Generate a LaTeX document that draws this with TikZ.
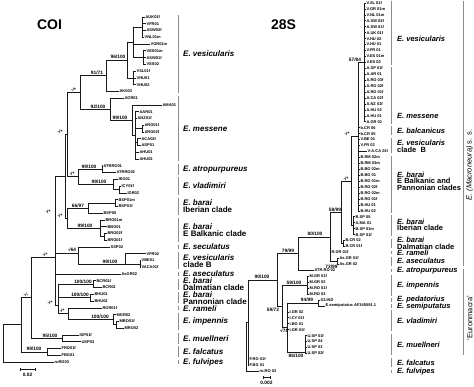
\documentclass[tikz,border=0pt]{standalone}
\usepackage{fontspec}
\setmainfont{Liberation Sans}
\newcommand\tipfnt{\fontsize{4}{4.5}\selectfont\bfseries}
\newcommand\supfnt{\fontsize{4.8}{5}\selectfont\bfseries}
\newcommand\cladefnt{\fontsize{8}{7}\selectfont\bfseries}
\newcommand\cladefntB{\fontsize{7.5}{6.5}\selectfont\bfseries}
\newcommand\headfnt{\fontsize{14}{16}\selectfont\bfseries}
\newcommand\spname[1]{\textit{#1}}

\tikzset{
  branch/.style={line width=0.7pt, black!90},
  tip/.style={anchor=west, inner sep=0.4pt, font=\tipfnt},
  support/.style={inner sep=0pt, font=\supfnt},
  cladebar/.style={line width=0.9pt, black!45},
  clade/.style={anchor=west, inner sep=0pt, align=left, font=\cladefnt},
  cladeB/.style={clade, font=\cladefntB},
  head/.style={font=\headfnt},
  side/.style={rotate=90, inner sep=0pt, font=\fontsize{7.5}{8}\selectfont},
  declare function={yc(\i)=17+6.765*\i; ys(\i)=3+5.94*\i;}
}

\begin{document}
\begin{tikzpicture}[x=1pt, y=-1pt]
\useasboundingbox (0,0) rectangle (474,387);

% Titles
\node[head] (tCOI) at (49.5,25) {COI};
\node[head] (t28S) at (283.5,25) {28S};

%%%%%%%%%%%%%%%% COI tree %%%%%%%%%%%%%%%%
% Internal nodes
\coordinate (c1) at (142,27.15);
\coordinate (c2) at (143,57.6);
\coordinate (c3) at (133,42.4);
\coordinate (c4) at (133,77.9);
\coordinate (c5) at (127,60.15);
\coordinate (c6) at (106,75.8);
\coordinate (c7) at (142,128.6);
\coordinate (c8) at (137,142.2);
\coordinate (c9) at (135,135.4);
\coordinate (c10) at (132,120.2);
\coordinate (c11) at (110,109.2);
\coordinate (c12) at (80,92.5);
\coordinate (c13) at (102,169.2);
\coordinate (c14) at (119,189.5);
\coordinate (c15) at (113,184.45);
\coordinate (c16) at (78,176.8);
\coordinate (c17) at (67,134.65);
\coordinate (c18) at (115,203.05);
\coordinate (c19) at (88,208.1);
\coordinate (c20) at (104,236.85);
\coordinate (c21) at (100,228.4);
\coordinate (c22) at (67,218.25);
\coordinate (c23) at (65,176.45);
\coordinate (c24) at (140,263.9);
\coordinate (c25) at (125,264);
\coordinate (c26) at (78,252.9);
\coordinate (c27) at (93,284.2);
\coordinate (c28) at (90,297.75);
\coordinate (c29) at (116,324.8);
\coordinate (c30) at (113,319.75);
\coordinate (c31) at (68,313.8);
\coordinate (c32) at (58,305);
\coordinate (c33) at (55,257);
\coordinate (c34) at (62,338.35);
\coordinate (c35) at (31,297.7);
\coordinate (c36) at (47,351.9);
\coordinate (c37) at (21,324.8);
\coordinate (c38) at (3,343.4);

% Branches between internal nodes
\foreach \a/\b in {c3/c1, c3/c2, c5/c3, c5/c4, c6/c5, c9/c7, c9/c8, c10/c9,
    c11/c10, c12/c6, c12/c11, c17/c12, c16/c13, c15/c14, c16/c15, c17/c16,
    c23/c17, c19/c18, c21/c20, c22/c19, c22/c21, c23/c22, c25/c24, c26/c25,
    c33/c23, c33/c26, c30/c29, c31/c30, c32/c27, c32/c28, c32/c31, c33/c32,
    c35/c33, c35/c34, c37/c35, c37/c36, c38/c37}
  \draw[branch] (\a) |- (\b);

% Tips
\foreach \i/\up/\ex/\lab in {0/c1/145/AUK01f, 1/c1/146/VFR01, 2/c1/146/ASW02f,
    3/c1/144/VNL01m, 4/c3/150/VGR01m, 5/c2/146/VES01m, 6/c2/146/ASW01f,
    7/c2/146/VES02, 8/c4/136/VSL01f, 9/c4/136/VHU01, 10/c4/136/VHU02,
    11/c6/119/AK003, 12/c11/124/AGR01, 13/c10/162/AMA01, 14/c9/139/AAR01,
    15/c9/137/ANZ01f, 16/c7/144/ARO01f, 17/c7/144/ARO02f, 18/c8/141/ACA02f,
    19/c8/141/ASP01, 20/c9/139/AHU01, 21/c9/139/AHU02, 22/c13/103/ATRRO01,
    23/c13/116/ATRRO02, 24/c15/118/IBG01, 25/c14/121/ICY01f, 26/c14/127/IGR02,
    27/c18/118/BSP01m, 28/c18/118/BSP01f, 29/c19/103/BSP05, 30/c21/105/BRO01m,
    31/c21/107/BBG01, 32/c20/107/BRO02f, 33/c20/107/BRO01f, 34/c26/110/SSP02,
    35/c25/146/VFR02, 36/c24/141/VBE01, 37/c24/141/VACA01f, 38/c33/121/AsGR02,
    39/c27/96/BCR01f, 40/c27/102/BCR02, 41/c28/94/BHU01, 42/c28/94/BHU02,
    43/c31/102/RGR01f, 44/c30/116/MGR02, 45/c29/119/MRO01f, 46/c29/124/MRO02,
    47/c34/79/ISP01f, 48/c34/81/USP03, 49/c36/61/FRO01f, 50/c36/61/FBG01,
    51/c38/54/ruRO03}{
  \node[tip] (cT\i) at (\ex,{yc(\i)}) {\lab};
  \draw[branch] (\up) |- (cT\i.west);
}

% Support values
\node[support] (cS1) at (118,57.3) {96/100};
\node[support] (cS2) at (97,73) {91/71};
\node[support] (cS3) at (73.5,89.8) {-/*};
\node[support] (cS4) at (98,106.7) {92/100};
\node[support] (cS5) at (120,117.6) {99/100};
\node[support] (cS6) at (60,132) {-/*};
\node[support] (cS7) at (89,166.6) {99/100};
\node[support] (cS8) at (72,174.2) {-/*};
\node[support] (cS9) at (99,181.9) {99/100};
\node[support] (cS10) at (78,205.6) {66/97};
\node[support] (cS11) at (48,212) {-/*};
\node[support] (cS12) at (60,215.8) {-/*};
\node[support] (cS13) at (85,225.9) {99/100};
\node[support] (cS14) at (72,250.3) {-/64};
\node[support] (cS15) at (110,261.5) {99/100};
\node[support] (cS16) at (45,254.4) {-/*};
\node[support] (cS17) at (83,281.6) {100/100};
\node[support] (cS18) at (80,295.2) {100/100};
\node[support] (cS19) at (50,302.4) {-/*};
\node[support] (cS20) at (62,311.2) {-/*};
\node[support] (cS21) at (100,317.2) {100/100};
\node[support] (cS22) at (26,295.1) {-/-};
\node[support] (cS23) at (50,335.8) {95/100};
\node[support] (cS24) at (34,349.3) {99/100};

% Scale bar
\coordinate (cB1) at (20,369);
\coordinate (cB2) at (35,369);
\draw[branch] (cB1) -- (cB2);
\draw[branch] ([yshift=-1.5pt]cB1) -- ([yshift=1.5pt]cB1);
\draw[branch] ([yshift=-1.5pt]cB2) -- ([yshift=1.5pt]cB2);
\node[support] (cBl) at (27.5,375) {0.02};

% Clade bars and names
\foreach \ya/\yb in {15/93.4, 96.2/161.1, 163.8/174.6, 177.4/194.9, 197.7/215.2,
    218/242.2, 245/249, 251.8/269.3, 272.1/276.1, 278.8/289.6, 292.4/303.1,
    305.9/309.9, 312.7/330.2, 333/343.7, 346.5/357.3, 360/364}
  \draw[cladebar] (178,\ya) -- (178,\yb);
\node[clade] (kC1) at (183,54) {\spname{E. vesicularis}};
\node[clade] (kC2) at (183,129) {\spname{E. messene}};
\node[clade] (kC3) at (183,169.5) {\spname{E. atropurpureus}};
\node[clade] (kC4) at (183,186) {\spname{E. vladimiri}};
\node[clade] (kC5) at (183,206.5) {\spname{E. barai}\\Iberian clade};
\node[clade] (kC6) at (183,230) {\spname{E. barai}\\E Balkanic clade};
\node[clade] (kC7) at (183,247) {\spname{E. seculatus}};
\node[clade] (kC8) at (183,261) {\spname{E. vesicularis}\\clade B};
\node[clade] (kC9) at (183,274) {\spname{E. aseculatus}};
\node[clade] (kC10) at (183,284.5) {\spname{E. barai}\\Dalmatian clade};
\node[clade] (kC11) at (183,298) {\spname{E. barai}\\Pannonian clade};
\node[clade] (kC12) at (183,308.5) {\spname{E. rameli}};
\node[clade] (kC13) at (183,321.5) {\spname{E. impennis}};
\node[clade] (kC14) at (183,338.5) {\spname{E. muellneri}};
\node[clade] (kC15) at (183,352) {\spname{E. falcatus}};
\node[clade] (kC16) at (183,362.5) {\spname{E. fulvipes}};

%%%%%%%%%%%%%%%% 28S tree %%%%%%%%%%%%%%%%
% Internal nodes
\coordinate (d1) at (364,62.4);
\coordinate (d2) at (358,136.65);
\coordinate (d3) at (353,225.7);
\coordinate (d4) at (351,181.2);
\coordinate (d5) at (343,243.55);
\coordinate (d6) at (341,212.4);
\coordinate (d7) at (337,261.4);
\coordinate (d8) at (330,236.9);
\coordinate (d9) at (298,253.6);
\coordinate (d10) at (307,285.15);
\coordinate (d11) at (318,303);
\coordinate (d12) at (305,352);
\coordinate (d13) at (287,327.5);
\coordinate (d14) at (282,306.3);
\coordinate (d15) at (277,279.95);
\coordinate (d16) at (248,322.7);
\coordinate (d17) at (246,347);

% Branches between internal nodes
\foreach \a/\b in {d2/d1, d4/d2, d4/d3, d6/d4, d6/d5, d8/d6, d8/d7, d9/d8,
    d15/d9, d14/d10, d13/d11, d13/d12, d14/d13, d15/d14, d16/d15, d17/d16}
  \draw[branch] (\a) |- (\b);

% Tips
\foreach \i/\up/\ex/\lab in {0/d1/366/V.SL 01f, 1/d1/366/V.GR 01m,
    2/d1/366/V.NL 01m, 3/d1/366/A.SW 02f, 4/d1/366/A.SW 01f, 5/d1/366/A.UK 01f,
    6/d1/366/V.HU 02, 7/d1/366/V.HU 01, 8/d1/366/V.FR 01, 9/d1/366/V.ES 01m,
    10/d1/366/V.ES 02, 11/d1/366/A.SP 01f, 12/d1/366/A.AR 01, 13/d1/366/A.RO 03f,
    14/d1/366/A.RO 02f, 15/d1/366/A.RO 01f, 16/d1/366/A.CA 02f, 17/d1/366/A.NZ 01f,
    18/d1/366/A.HU 02, 19/d1/366/A.HU 01, 20/d1/366/A.GR 01,
    21/d2/360/b.CR 06, 22/d2/360/b.CR 05, 23/d2/360/V.BE 01, 24/d2/360/V.FR 02,
    25/d2/367/V-A.CA 01f, 26/d2/360/B.RM 02m, 27/d2/360/B.RM 03m,
    28/d2/360/B.BG 02m, 29/d2/360/B.BG 01, 30/d2/360/B.RO 01m, 31/d2/360/B.RO 02f,
    32/d2/360/B.RO 02m, 33/d2/360/B.RO 01f, 34/d2/360/B.HU 01, 35/d2/360/B.HU 02,
    36/d3/355/B.SP 05, 37/d3/355/A.MA 01, 38/d3/355/B.SP 01m, 39/d3/355/B.SP 01f,
    40/d5/345/B.CR 02, 41/d5/345/B.CR 01f, 42/d8/331/R.GR 01f,
    43/d7/339/As.GR 01f, 44/d7/339/As.GR 02, 45/d9/314/ATR.RO 02,
    46/d10/309/M.GR 01f, 47/d10/309/M.GR 02, 48/d10/309/M.RO 01f,
    49/d10/309/M.RO 02, 50/d11/320/S3.IND, 51/d11/325/E.semiputatus AF345591.1,
    52/d13/289/I.GR 02, 53/d13/289/I.CY 01f, 54/d13/289/I.BG 01,
    55/d13/289/I.GR 01f, 56/d12/307/U.SP 01f, 57/d12/307/U.SP 04,
    58/d12/307/U.SP 03, 59/d12/307/U.SP 02f, 60/d16/249/F.RO 01f,
    61/d16/249/F.BG 01, 62/d17/259/ro.RO 03}{
  \node[tip] (dT\i) at (\ex,{ys(\i)}) {\lab};
  \draw[branch] (\up) |- (dT\i.west);
}

% Support values
\node[support] (dS1) at (355,59.6) {57/84};
\node[support] (dS2) at (347,134) {-/*};
\node[support] (dS3) at (346,178.5) {-/*};
\node[support] (dS4) at (335,209.7) {58/99};
\node[support] (dS5) at (315,234.2) {80/100};
\node[support] (dS6) at (331.5,267.2) {73/99};
\node[support] (dS7) at (288,250.9) {79/99};
\node[support] (dS8) at (262,277.2) {90/100};
\node[support] (dS9) at (294,282.5) {59/100};
\node[support] (dS10) at (307,300.3) {94/99};
\node[support] (dS11) at (273,309.5) {59/72};
\node[support] (dS12) at (284,330.7) {-/71};
\node[support] (dS13) at (296,355.4) {86/100};

% Scale bar
\coordinate (dB1) at (263,377);
\coordinate (dB2) at (270,377);
\draw[branch] (dB1) -- (dB2);
\draw[branch] ([yshift=-1.5pt]dB1) -- ([yshift=1.5pt]dB1);
\draw[branch] ([yshift=-1.5pt]dB2) -- ([yshift=1.5pt]dB2);
\node[support] (dBl) at (266.5,382.5) {0.002};

% Clade bars and names
\foreach \ya/\yb in {1/65, 67/124.3, 126.2/135.5, 138/153.5, 155.8/212.8,
    215.2/236.3, 239/248.3, 250.8/254.3, 256.8/266.3, 268.7/272.1, 274.6/295.9,
    298.4/301.9, 304.4/307.9, 310.3/331.5, 334.1/355.3, 357.8/367.2, 369.7/373.1}
  \draw[cladebar] (391,\ya) -- (391,\yb);
\node[cladeB] (kD1) at (397,39) {\spname{E. vesicularis}};
\node[cladeB] (kD2) at (397,116) {\spname{E. messene}};
\node[cladeB] (kD3) at (397,130.5) {\spname{E. balcanicus}};
\node[cladeB] (kD4) at (397,146.5) {\spname{E. vesicularis}\\clade\ \ B};
\node[cladeB] (kD5) at (397,181) {\spname{E. barai}\\E Balkanic and\\Pannonian clades};
\node[cladeB] (kD6) at (397,225) {\spname{E. barai}\\Iberian clade};
\node[cladeB] (kD7) at (397,243.5) {\spname{E. barai}\\Dalmatian clade};
\node[cladeB] (kD8) at (397,253.2) {\spname{E. rameli}};
\node[cladeB] (kD9) at (397,261.3) {\spname{E. aseculatus}};
\node[cladeB] (kD10) at (397,271) {\spname{E. atropurpureus}};
\node[cladeB] (kD11) at (397,285.5) {\spname{E. impennis}};
\node[cladeB] (kD12) at (397,300) {\spname{E. pedatorius}};
\node[cladeB] (kD13) at (397,306.8) {\spname{E. semiputatus}};
\node[cladeB] (kD14) at (397,320.5) {\spname{E. vladimiri}};
\node[cladeB] (kD15) at (397,345) {\spname{E. muellneri}};
\node[cladeB] (kD16) at (397,362.5) {\spname{E. falcatus}};
\node[cladeB] (kD17) at (397,372) {\spname{E. fulvipes}};

% Subgenus brackets
\draw[cladebar] (463,1) -- (463,266);
\draw[cladebar] (463,268.7) -- (463,355.3);
\node[side] (kMac) at (469.8,165) {\textit{E. (Macroneura)} s. s.};
\node[side] (kEur) at (469.8,318) {`Euronmacra'};

\end{tikzpicture}
\end{document}
